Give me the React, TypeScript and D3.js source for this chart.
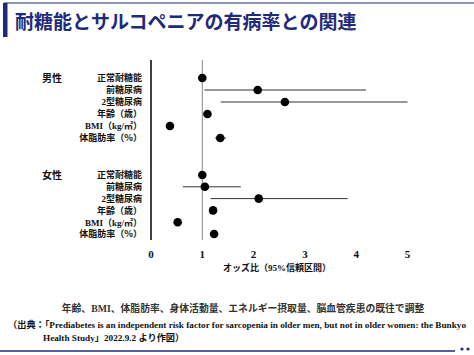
import React from "react";
import * as d3 from "d3";

const W = 474;
const H = 355;

const groups = ["男性", "女性"];
const rowLabels = ["正常耐糖能", "前糖尿病", "2型糖尿病", "年齢（歳）", "BMI（kg/㎡）", "体脂肪率（%）"];
const menOR = [1.0, 2.08, 2.61, 1.1, 0.37, 1.35];
const menLo = [1.0, 1.04, 1.36, 1.05, 0.32, 1.25];
const menHi = [1.0, 4.19, 5.0, 1.15, 0.43, 1.46];
const womenOR = [1.0, 1.05, 2.1, 1.21, 0.52, 1.23];
const womenLo = [1.0, 0.62, 1.16, 1.17, 0.46, 1.19];
const womenHi = [1.0, 1.75, 3.83, 1.25, 0.58, 1.27];
const xTicks = [0, 1, 2, 3, 4, 5];

const navy = "#1f2a7a";
const jp = "'Noto Sans CJK JP', 'Noto Sans', sans-serif";
const serif = "'Liberation Serif', 'DejaVu Serif', serif";

export default function App() {
  const x = d3.scaleLinear().domain([0, 5]).range([151, 407.5]);
  const yMen = d3.scalePoint<string>().domain(rowLabels).range([78, 138]);
  const yWomen = d3.scalePoint<string>().domain(rowLabels).range([175, 234]);
  const series = [
    { g: groups[0], y: yMen, or: menOR, lo: menLo, hi: menHi },
    { g: groups[1], y: yWomen, or: womenOR, lo: womenLo, hi: womenHi },
  ];

  const renderLabel = (t: string) => {
    if (t.startsWith("BMI")) {
      return (
        <>
          <tspan fontFamily={serif}>BMI</tspan>
          <tspan>（</tspan>
          <tspan fontFamily={serif}>kg/</tspan>
          <tspan>㎡）</tspan>
        </>
      );
    }
    if (t.startsWith("2")) {
      return (
        <>
          <tspan fontFamily={serif}>2</tspan>
          <tspan>型糖尿病</tspan>
        </>
      );
    }
    return t;
  };

  return (
    <svg width={W} height={H} style={{ position: "absolute", left: 0, top: 0, background: "#fff" }}>
      {/* header */}
      <line x1={4} x2={474} y1={3} y2={3} stroke={navy} strokeWidth={1.2} />
      <rect x={3} y={3} width={4.5} height={34} fill={navy} />
      <text x={15} y={29} fontFamily={jp} fontWeight={700} fontSize={19} fill={navy}>
        耐糖能とサルコペニアの有病率との関連
      </text>

      {/* axis lines */}
      <line x1={x(0)} x2={x(0)} y1={60} y2={240} stroke="#000" strokeWidth={1.5} />
      <line x1={x(1)} x2={x(1)} y1={60} y2={240} stroke="#888" strokeWidth={1} />

      {series.map((s) => (
        <g key={s.g}>
          <text x={42} y={(s.y(rowLabels[0]) as number) + 3.5} fontFamily={jp} fontWeight={700} fontSize={10} fill="#111">
            {s.g}
          </text>
          {rowLabels.map((r, i) => {
            const yy = s.y(r) as number;
            return (
              <g key={r}>
                <text x={142} y={yy + 3.3} textAnchor="end" fontFamily={jp} fontWeight={700} fontSize={9} fill="#111">
                  {renderLabel(r)}
                </text>
                {s.hi[i] > s.lo[i] && (
                  <line x1={x(s.lo[i])} x2={x(s.hi[i])} y1={yy} y2={yy} stroke="#333" strokeWidth={1} />
                )}
                <circle cx={x(s.or[i])} cy={yy} r={4.3} fill="#000" />
              </g>
            );
          })}
        </g>
      ))}

      {/* ticks */}
      {xTicks.map((t) => (
        <text key={t} x={x(t)} y={258} textAnchor="middle" fontFamily={serif} fontWeight={700} fontSize={11} fill="#111">
          {t}
        </text>
      ))}
      <text x={277} y={271} textAnchor="middle" fontFamily={jp} fontWeight={700} fontSize={9} fill="#111">
        オッズ比（<tspan fontFamily={serif}>95%</tspan>信頼区間）
      </text>

      <text x={243} y={312} textAnchor="middle" fontFamily={jp} fontWeight={700} fontSize={9.8} fill="#333">
        年齢、<tspan fontFamily={serif}>BMI</tspan>、体脂肪率、身体活動量、エネルギー摂取量、脳血管疾患の既往で調整
      </text>
      <text x={8} y={328} fontFamily={jp} fontWeight={700} fontSize={9.2} fill="#111" textLength={458} lengthAdjust="spacingAndGlyphs">
        （出典：「<tspan fontFamily={serif}>Prediabetes is an independent risk factor for sarcopenia in older men, but not in older women: the Bunkyo</tspan>
      </text>
      <text x={43} y={341} fontFamily={jp} fontWeight={700} fontSize={9.2} fill="#111">
        <tspan fontFamily={serif}>Health Study</tspan>」<tspan fontFamily={serif}>2022.9.2 </tspan>より作図）
      </text>

      <line x1={0} x2={455} y1={351} y2={351} stroke={navy} strokeWidth={1.5} />
      <circle cx={462} cy={349} r={1.6} fill={navy} />
      <circle cx={468} cy={349} r={1.6} fill={navy} />
    </svg>
  );
}
